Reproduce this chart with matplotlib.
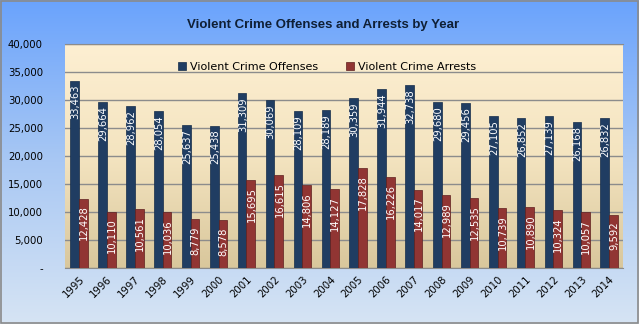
import numpy as np
import matplotlib
matplotlib.use('Agg')
import matplotlib.pyplot as plt
from matplotlib.colors import LinearSegmentedColormap
from matplotlib.ticker import FuncFormatter

years = [str(y) for y in range(1995, 2015)]
offenses = [33463, 29664, 28962, 28054, 25637, 25438, 31309, 30069, 28109, 28189,
            30359, 31944, 32738, 29680, 29456, 27105, 26852, 27139, 26168, 26832]
arrests = [12428, 10110, 10561, 10036, 8779, 8578, 15695, 16615, 14806, 14127,
           17828, 16226, 14017, 12989, 12535, 10739, 10890, 10324, 10057, 9592]

blue = '#203d62'
red = '#913533'

fig = plt.figure(figsize=(6.39, 3.24), dpi=100)

# fond de la figure : dégradé bleu
bg = fig.add_axes([0, 0, 1, 1], zorder=-10)
bg_cmap = LinearSegmentedColormap.from_list('bg', ['#6aa3fd', '#a9c8f3', '#d6e4f4'])
bg.imshow(np.linspace(0, 1, 256).reshape(-1, 1), cmap=bg_cmap, aspect='auto',
          extent=[0, 1, 0, 1], origin='upper')
bg.set_axis_off()
bg.add_patch(plt.Rectangle((0.001, 0.002), 0.997, 0.995, fill=False,
                           edgecolor='#8a8a8a', linewidth=1.2,
                           transform=bg.transAxes))

ax = fig.add_axes([0.102, 0.172, 0.873, 0.692])
ax.set_facecolor('none')
pa_cmap = LinearSegmentedColormap.from_list('pa', ['#fdefd2', '#f4e4c0', '#d9c79c'])
ax.imshow(np.linspace(0, 1, 256).reshape(-1, 1), cmap=pa_cmap, aspect='auto',
          extent=[0, 1, 0, 1], origin='upper', transform=ax.transAxes, zorder=0)

x = np.arange(len(years))
w = 0.31
ax.bar(x - w / 2, offenses, w, color=blue, edgecolor='#162d4a', linewidth=0.5,
       label='Violent Crime Offenses', zorder=3)
ax.bar(x + w / 2, arrests, w, color=red, edgecolor='#5e1f1e', linewidth=0.5,
       label='Violent Crime Arrests', zorder=3)

for xi, v in zip(x - w / 2, offenses):
    ax.annotate(f'{v:,}', (xi, v), xytext=(0.5, -3), textcoords='offset points',
                rotation=90, ha='center', va='top', color='white', fontsize=7.2, zorder=4)
for xi, v in zip(x + w / 2, arrests):
    ax.annotate(f'{v:,}', (xi, v), xytext=(0.5, -5), textcoords='offset points',
                rotation=90, ha='center', va='top', color='white', fontsize=7.2, zorder=4)

ax.set_xlim(-0.5, len(years) - 0.5)
ax.set_ylim(0, 40000)
ax.set_yticks(range(0, 40001, 5000))
ax.yaxis.set_major_formatter(FuncFormatter(lambda v, p: '-' if v == 0 else f'{int(v):,}'))
ax.set_xticks(x)
ax.set_xticklabels(years, rotation=45, ha='right', rotation_mode='anchor', fontsize=7.3)
ax.tick_params(axis='y', labelsize=7.3, length=0, pad=16)
ax.tick_params(axis='x', length=0, pad=4)
ax.grid(axis='y', color='#8c8c8c', linewidth=1, zorder=1)
for s in ['left', 'right']:
    ax.spines[s].set_visible(False)
ax.spines['top'].set_color('#8c8c8c')
ax.spines['bottom'].set_color('#8c8c8c')

ax.legend(loc='upper center', bbox_to_anchor=(0.47, 0.965), ncol=2, frameon=False,
          fontsize=8, handlelength=0.7, handleheight=0.7, columnspacing=2.5,
          handletextpad=0.4)

fig.text(0.505, 0.922, 'Violent Crime Offenses and Arrests by Year', ha='center',
         va='center', fontsize=9.5, fontweight='bold', color='#0f1f35',
         family='Liberation Sans')

fig.savefig('out.png', dpi=100)
